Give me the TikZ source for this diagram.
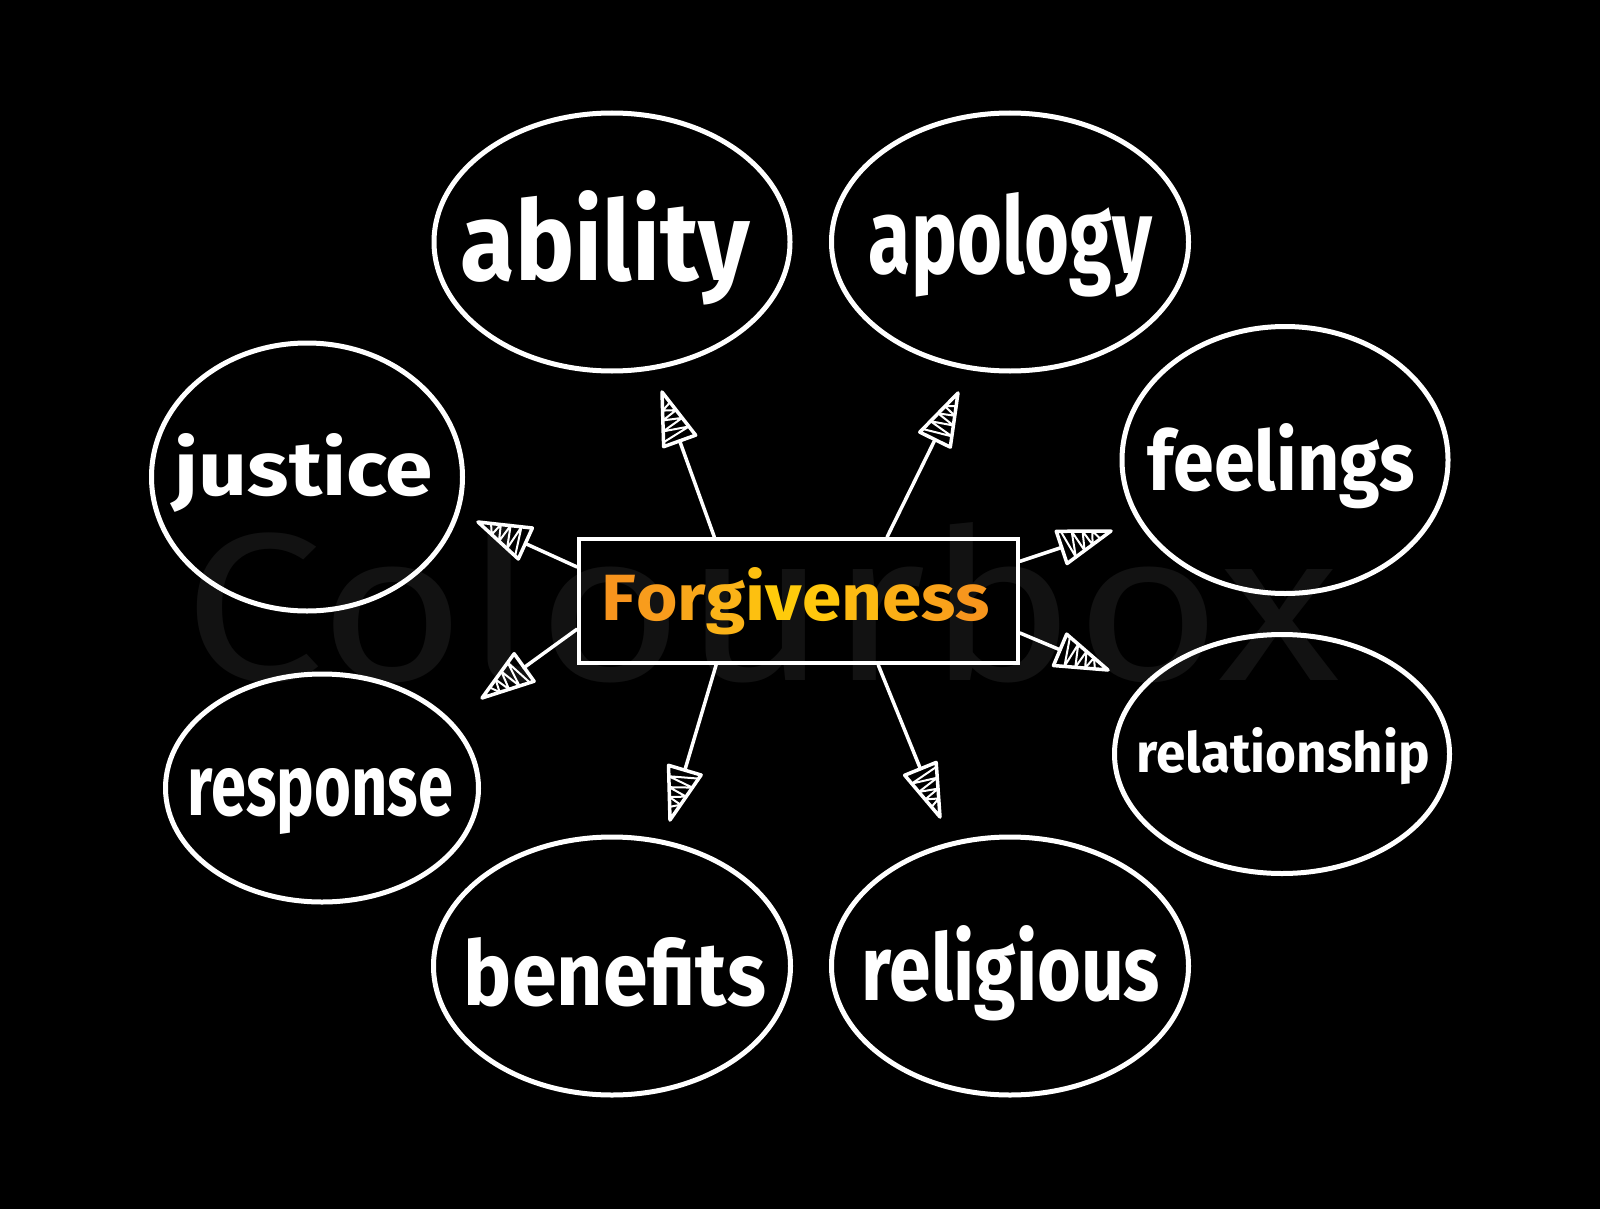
\documentclass[tikz,border=0pt]{standalone}
\usepackage{fontspec}
\setmainfont{Fira Sans}
\usetikzlibrary{calc,shapes.geometric}
\definecolor{wm}{HTML}{121212}
\definecolor{c1}{HTML}{F7941D}
\definecolor{c2}{HTML}{F89C1C}
\definecolor{c3}{HTML}{F9A61A}
\definecolor{c4}{HTML}{FBB318}
\definecolor{c5}{HTML}{FDC010}
\definecolor{c6}{HTML}{FFCB0B}
\definecolor{c7}{HTML}{FFC70D}
\definecolor{c8}{HTML}{FDBA12}
\definecolor{c9}{HTML}{FBAE16}
\definecolor{c10}{HTML}{F9A21A}
\definecolor{c11}{HTML}{F7961D}
\newcommand\sketcharrow[2]{%
  \coordinate (hb) at ($(#2)!52pt!(#1)$);
  \coordinate (hl) at ($(hb)!17pt!90:(#2)$);
  \coordinate (hr) at ($(hb)!17pt!-90:(#2)$);
  \draw[shaft] (#1) -- (hb);
  \draw[headline] (#2) -- (hl) -- (hr) -- cycle;
  \draw[hatch] ($(hl)!.08!(#2)$) -- ($(hr)!.2!(#2)$) -- ($(hl)!.28!(#2)$) -- ($(hr)!.4!(#2)$) -- ($(hl)!.48!(#2)$) -- ($(hr)!.58!(#2)$) -- ($(hl)!.66!(#2)$) -- ($(hr)!.76!(#2)$);
}
\begin{document}
\begin{tikzpicture}[x=1pt,y=-1pt,
  bubble/.style={ellipse,draw=white,line width=5pt,inner sep=0pt},
  word/.style={text=white,anchor=base,inner sep=0pt,font=\bfseries},
  shaft/.style={draw=white,line width=3.5pt,line cap=round},
  headline/.style={draw=white,line width=3.5pt,line join=round},
  hatch/.style={draw=white,line width=2pt,line cap=round,line join=round},
  box/.style={rectangle,draw=white,line width=4pt,inner sep=0pt}]
\fill[black] (0,0) rectangle (1600,1209);
\useasboundingbox (0,0) rectangle (1600,1209);
% faint watermark
\node[word,text=wm,font=\mdseries] (wmark) at (762,680) {\resizebox{1155pt}{158pt}{Colourbox}};
% bubbles
\node[bubble,minimum width=356pt,minimum height=258pt] (ability) at (612,242) {};
\node[bubble,minimum width=357pt,minimum height=258pt] (apology) at (1010,242) {};
\node[bubble,minimum width=311pt,minimum height=268pt] (justice) at (307,477) {};
\node[bubble,minimum width=326pt,minimum height=267pt] (feelings) at (1285,460) {};
\node[bubble,minimum width=313pt,minimum height=228pt] (response) at (322,788) {};
\node[bubble,minimum width=335pt,minimum height=239pt] (relationship) at (1282,754) {};
\node[bubble,minimum width=357pt,minimum height=258pt] (benefits) at (612,966) {};
\node[bubble,minimum width=357pt,minimum height=258pt] (religious) at (1010,966) {};
% words
\node[word] (ability-t) at (605.5,280) {\resizebox{289pt}{90pt}{ability}};
\node[word] (apology-t) at (1010.5,273) {\resizebox{283pt}{81pt}{apology}};
\node[word] (justice-t) at (304,495) {\resizebox{258pt}{62pt}{justice}};
\node[word] (feelings-t) at (1281.5,490) {\resizebox{267pt}{67pt}{feelings}};
\node[word] (response-t) at (320.5,815) {\resizebox{265pt}{47pt}{response}};
\node[word] (relationship-t) at (1283.5,772) {\resizebox{293pt}{45pt}{relationship}};
\node[word] (benefits-t) at (615,1005) {\resizebox{302pt}{68pt}{benefits}};
\node[word] (religious-t) at (1011,1000) {\resizebox{298pt}{75pt}{religious}};
% centre box
\node[box,minimum width=439pt,minimum height=124pt] (forg) at (798.5,601) {};
\node[word] (forg-t) at (796,620) {\resizebox{388pt}{53pt}{\textcolor{c1}{F}\textcolor{c2}{o}\textcolor{c3}{r}\textcolor{c4}{g}\textcolor{c5}{i}\textcolor{c6}{v}\textcolor{c7}{e}\textcolor{c8}{n}\textcolor{c9}{e}\textcolor{c10}{s}\textcolor{c11}{s}}};
% arrow starts on the box
\coordinate (s-ability) at ($(forg.north west)!0.31!(forg.north east)$);
\coordinate (s-apology) at ($(forg.north west)!0.70!(forg.north east)$);
\coordinate (s-benefits) at ($(forg.south west)!0.314!(forg.south east)$);
\coordinate (s-religious) at ($(forg.south west)!0.68!(forg.south east)$);
\coordinate (s-justice) at ($(forg.north west)!0.234!(forg.south west)$);
\coordinate (s-response) at ($(forg.north west)!0.72!(forg.south west)$);
\coordinate (s-feelings) at ($(forg.north east)!0.19!(forg.south east)$);
\coordinate (s-relationship) at ($(forg.north east)!0.75!(forg.south east)$);
% arrow tips
\coordinate (t-ability) at (662,392);
\coordinate (t-apology) at (958,393);
\coordinate (t-justice) at (478,522);
\coordinate (t-response) at (482,698);
\coordinate (t-benefits) at (670,820);
\coordinate (t-religious) at (940,817);
\coordinate (t-feelings) at (1111,531);
\coordinate (t-relationship) at (1108,670);
\sketcharrow{s-ability}{t-ability}
\sketcharrow{s-apology}{t-apology}
\sketcharrow{s-justice}{t-justice}
\sketcharrow{s-response}{t-response}
\sketcharrow{s-benefits}{t-benefits}
\sketcharrow{s-religious}{t-religious}
\sketcharrow{s-feelings}{t-feelings}
\sketcharrow{s-relationship}{t-relationship}
\end{tikzpicture}
\end{document}
